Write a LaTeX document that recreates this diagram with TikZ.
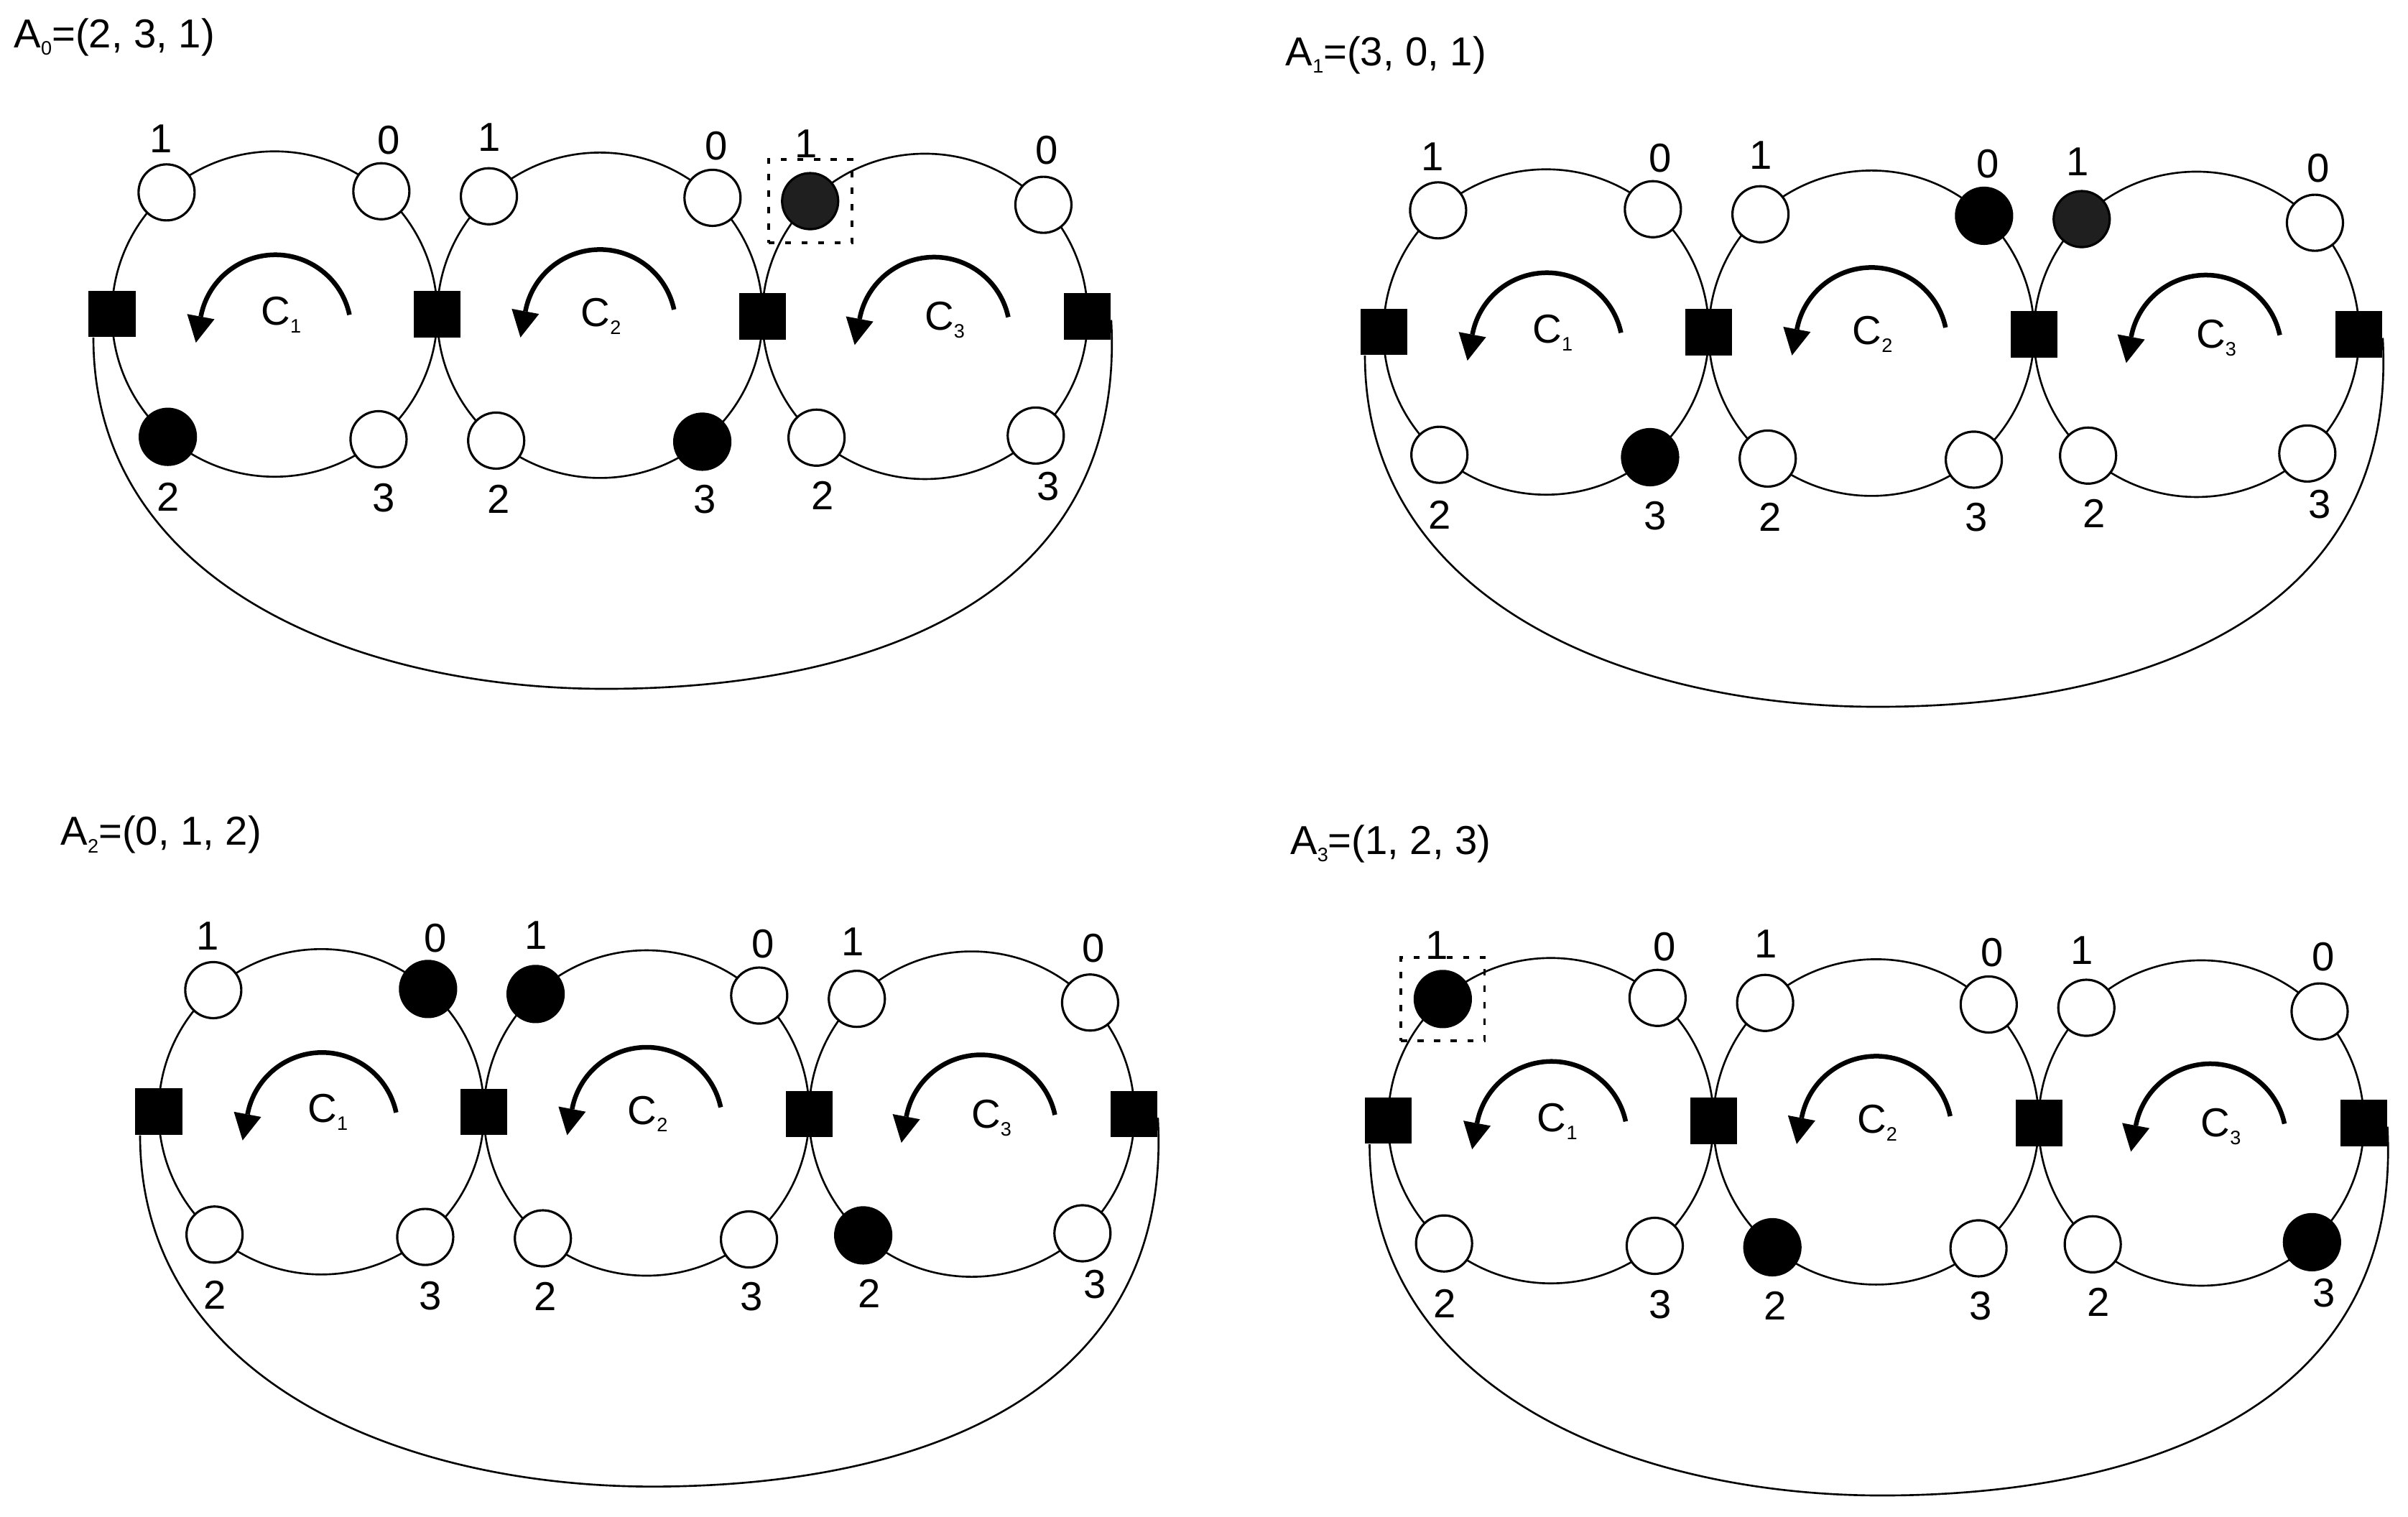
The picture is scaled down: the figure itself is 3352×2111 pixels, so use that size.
\documentclass[tikz,border=0pt]{standalone}
\usepackage{fontspec}
\setmainfont{Liberation Sans}
\usetikzlibrary{calc,arrows.meta}
\definecolor{dkg}{gray}{0.12}
\newcommand\subs[1]{\raisebox{-3.1pt}{\fontsize{7.7}{8}\selectfont #1}}
\tikzset{
  sq/.style={rectangle, fill=black, minimum width=0.65cm, minimum height=0.645cm, inner sep=0pt},
  dot/.style={circle, draw=black, line width=0.9pt, minimum size=0.78cm, inner sep=0pt},
  ringline/.style={line width=0.75pt},
  carrow/.style={line width=1.85pt, -{Triangle[length=10.5pt, width=11pt, line width=0pt]}},
  lbl/.style={inner sep=0pt, font=\fontsize{16}{19}\selectfont},
  dbox/.style={rectangle, draw=black, line width=1.1pt, dash pattern=on 2.4pt off 4.15pt, minimum size=1.16cm, inner sep=0pt}
}
% #1 name, #2 x, #3 y (downwards), #4 title index, #5 title tuple, #6-#8 fills of rings 1..3 (label 1/0/2/3), #9 extra
\newcommand\panel[9]{%
  \coordinate (#1o) at (#2,-#3);
  \node[sq] (#1s1) at (#1o) {};
  \node[sq] (#1s2) at ($(#1o)+(452.5,-0.4)$) {};
  \node[sq] (#1s3) at ($(#1o)+(905.6,-3.4)$) {};
  \node[sq] (#1s4) at ($(#1o)+(1357.6,-3.5)$) {};
  \coordinate (#1r1) at ($(#1s1)!0.5!(#1s2)$);
  \coordinate (#1r2) at ($(#1s2)!0.5!(#1s3)$);
  \coordinate (#1r3) at ($(#1s3)!0.5!(#1s4)$);
  \coordinate (#1bot) at ($(#1o)+(687,-522)$);
  \node[lbl, anchor=base west] (#1title) at ($(#1o)+(-137,371)$) {A\subs{#4}=(#5)};
  \foreach \r in {1,2,3} {\draw[ringline] (#1r\r) circle[radius=226.5];}
  \draw[ringline] ([shift={(-26,0)}]#1s1.south) .. controls +(0,-340) and +(-350,0) .. (#1bot)
        .. controls +(350,0) and +(22,-400) .. ([shift={(0,-5)}]#1s4.east);
  \foreach \r/\ta/\tb/\tc/\td/\fa/\fb/\fc/\fd in {1/131.6/49/229/309.7/#6, 2/133/46.2/230.4/309/#7, 3/134.9/43.3/228.2/312.9/#8} {
    \node[dot, fill=\fa] (#1c\r1) at ($(#1r\r)+(\ta:226.5)$) {};
    \node[dot, fill=\fb] (#1c\r0) at ($(#1r\r)+(\tb:226.5)$) {};
    \node[dot, fill=\fc] (#1c\r2) at ($(#1r\r)+(\tc:226.5)$) {};
    \node[dot, fill=\fd] (#1c\r3) at ($(#1r\r)+(\td:226.5)$) {};
  }
  \foreach \r/\xa/\ya/\xb/\yb/\xc/\yc/\xd/\yd in {1/-8/75/10/71/0.5/-84/7.5/-82, 2/1/82/5/72/3.5/-81/3.5/-80, 3/-6/80/5/76/8/-81/17/-71} {
    \node[lbl] at ($(#1c\r1)+(\xa,\ya)$) {1};
    \node[lbl] at ($(#1c\r0)+(\xb,\yb)$) {0};
    \node[lbl] at ($(#1c\r2)+(\xc,\yc)$) {2};
    \node[lbl] at ($(#1c\r3)+(\xd,\yd)$) {3};
  }
  \foreach \r/\ox/\oy/\lx/\ly in {1/1/-23/-19.5/-15, 2/0/-14/-27/-15.5, 3/12.7/-23/-1/-19.5} {
    \draw[carrow] ($(#1r\r)+(\ox,\oy)+(12:105.5)$) arc[start angle=12, end angle=169, radius=105.5] -- ++(-7,-37);
    \node[lbl, anchor=base west] at ($(#1r\r)+(\lx,\ly)$) {C\subs{\r}};
  }
  #9%
}
\begin{document}
\begin{tikzpicture}[x=0.01cm, y=0.01cm]
\fill[white] (0,-2111) rectangle (3352,0);
\useasboundingbox (0,-2111) rectangle (3352,0);
\panel{A0}{156}{437}{0}{2, 3, 1}{white/white/black/white}{white/white/white/black}{dkg/white/white/white}{\node[dbox] (A0box) at (A0c31) {};}
\panel{A1}{1926}{462}{1}{3, 0, 1}{white/white/white/black}{white/black/white/white}{dkg/white/white/white}{}
\panel{A2}{221}{1547.6}{2}{0, 1, 2}{white/black/white/white}{black/white/white/white}{white/white/black/white}{}
\panel{A3}{1932.5}{1560}{3}{1, 2, 3}{black/white/white/white}{white/white/black/white}{white/white/white/black}{\node[dbox] (A3box) at (A3c11) {};}
\end{tikzpicture}
\end{document}
